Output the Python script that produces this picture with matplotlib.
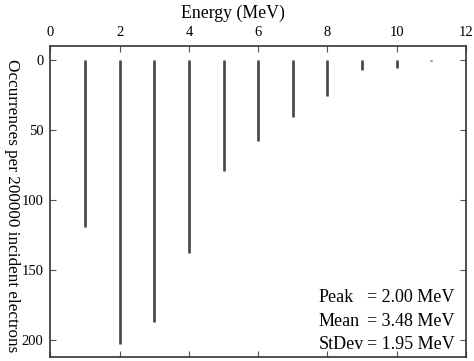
import matplotlib
matplotlib.use("Agg")
import matplotlib.pyplot as plt

energy = [1, 2, 3, 4, 5, 6, 7, 8, 9, 10, 11]
counts = [119, 203, 187, 138, 79, 58, 41, 26, 7, 6, 1]
xticks = [0, 2, 4, 6, 8, 10, 12]
yticks = [0, 50, 100, 150, 200]
stat_names = ["Peak", "Mean", "StDev"]
stat_values = ["= 2.00 MeV", "= 3.48 MeV", "= 1.95 MeV"]

plt.rcParams['font.family'] = ['Liberation Serif', 'DejaVu Serif']
fig = plt.figure(figsize=(4.74, 3.61), dpi=100)
ax = fig.add_axes([0.1065, 0.012, 0.8765, 0.8606])

ax.vlines(energy, 0, counts, color='#444444', linewidth=1.9)
ax.set_xlim(0, 12)
ax.set_ylim(212, -10)
ax.set_xticks(xticks)
ax.set_yticks(yticks)
ax.xaxis.set_ticks_position('both')
ax.yaxis.set_ticks_position('both')
ax.xaxis.set_label_position('top')
ax.tick_params(axis='x', labeltop=True, labelbottom=False)
ax.tick_params(direction='in', length=4, width=0.8, labelsize=10.5, color='#555555')
ax.tick_params(axis='x', pad=5)
ax.tick_params(axis='y', pad=5)
for s in ax.spines.values():
    s.set_linewidth(1.2)
    s.set_color('#333333')

ax.set_xlabel("Energy (MeV)", fontsize=12.8, va='center')
ax.xaxis.set_label_coords(0.438, 1.106)
ax.set_ylabel("Occurrences per 200000 incident electrons", fontsize=12.3,
              rotation=270, va='center', ha='center')
ax.yaxis.set_label_coords(-0.093, 0.485)

ys = [170, 187, 203.5]
for name, val, y in zip(stat_names, stat_values, ys):
    ax.text(7.75, y, name, fontsize=13, va='center', ha='left')
    ax.text(9.15, y, val, fontsize=13, va='center', ha='left')

fig.savefig("out.png", dpi=100)
